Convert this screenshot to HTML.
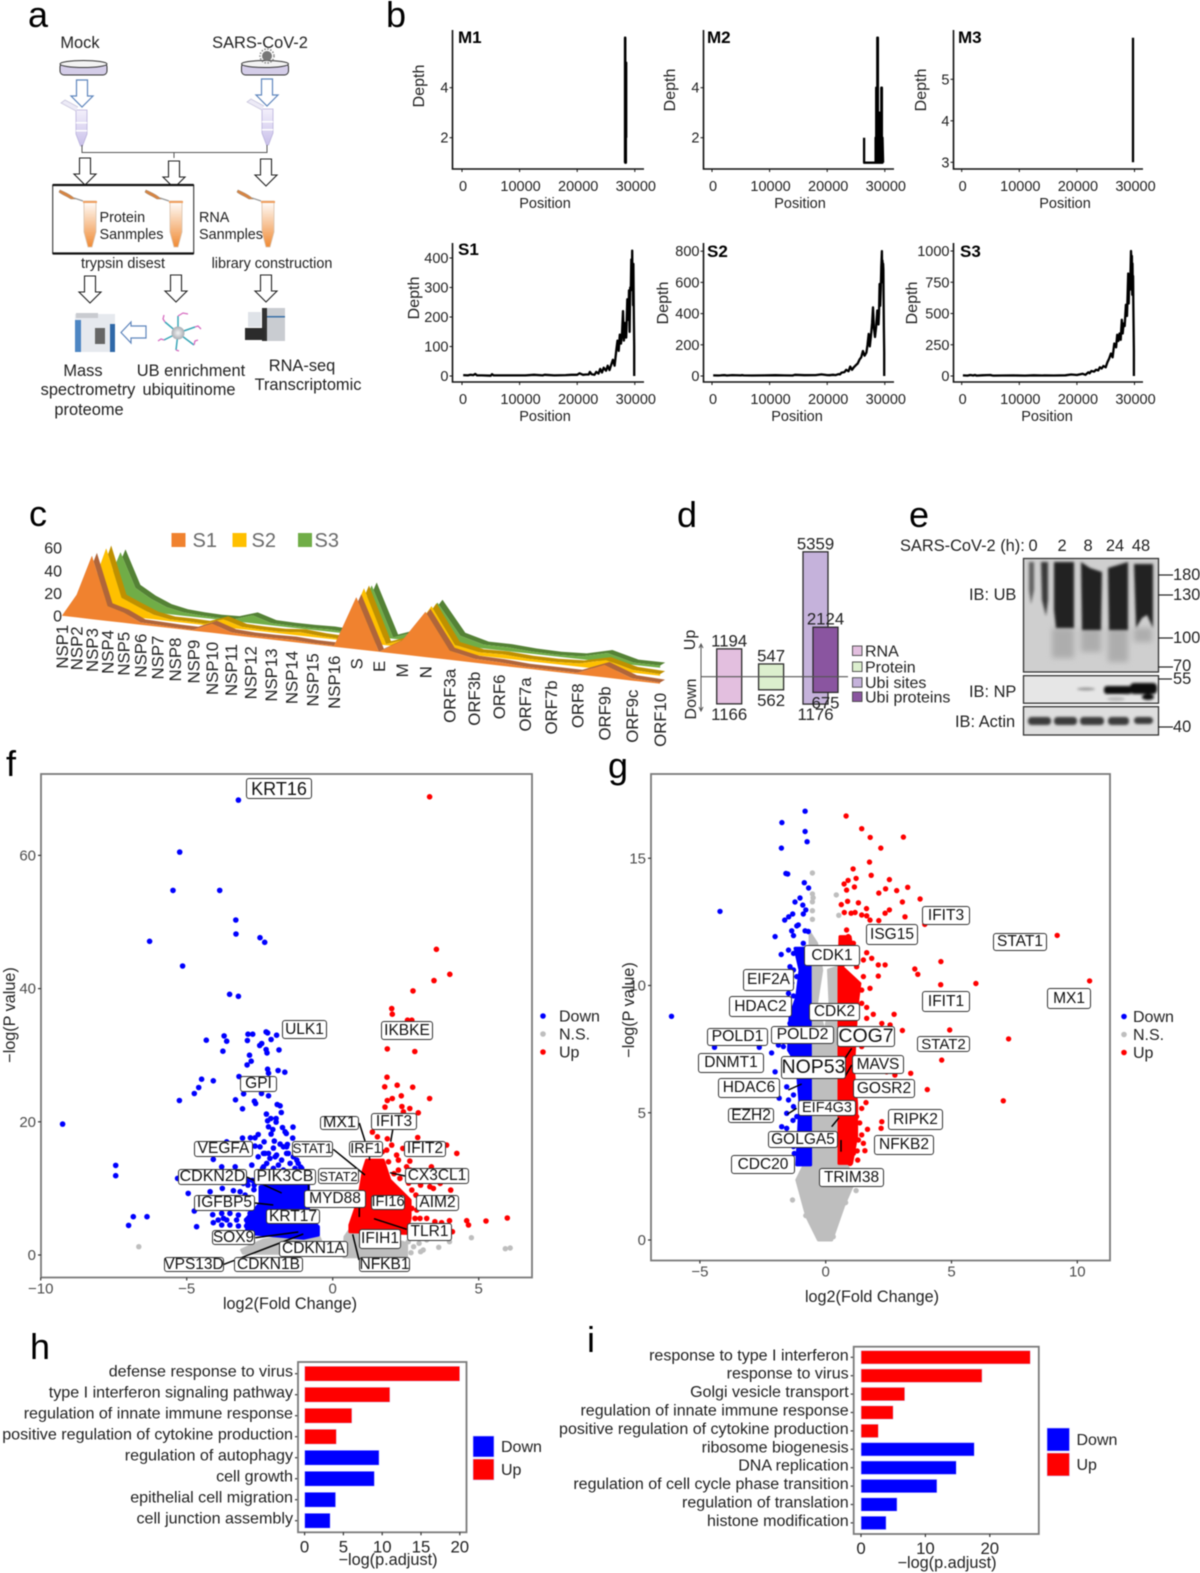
<!DOCTYPE html>
<html lang="en">
<head>
<meta charset="utf-8">
<title>SARS-CoV-2 multi-omics figure</title>
<style>
html,body{margin:0;padding:0;background:#fff;}
#root{position:relative;width:1200px;height:1573px;overflow:hidden;background:#fff;font-family:"Liberation Sans",Arial,sans-serif;color:#111;filter:blur(0.4px);}
#root svg{position:absolute;left:0;top:0;}
.lb{position:absolute;box-sizing:border-box;border:1.2px solid #333;border-radius:3px;background:#fff;display:flex;align-items:center;justify-content:center;font-size:15.5px;line-height:1;white-space:nowrap;color:#111;}
text{font-family:"Liberation Sans",Arial,sans-serif;}
.pl{font-size:36px;fill:#000;}
.ta{font-size:15.5px;fill:#222;}
.ts{font-size:14.4px;fill:#222;}
.wb{font-size:16.4px;fill:#222;}
</style>
</head>
<body>
<div id="root">
<svg id="chart" width="1200" height="1573" viewBox="0 0 1200 1573" xmlns="http://www.w3.org/2000/svg">
<defs>
<polygon id="arr" points="-5.5,0 5.5,0 5.5,16 11,16 0,27 -11,16 -5.5,16"/>
<linearGradient id="tubeP" x1="0" y1="0" x2="0" y2="1"><stop offset="0" stop-color="#f3f0fb"/><stop offset="1" stop-color="#c9c0ea"/></linearGradient>
<linearGradient id="tubeO" x1="0" y1="0" x2="0" y2="1"><stop offset="0" stop-color="#fff"/><stop offset="1" stop-color="#f08a33"/></linearGradient>
<radialGradient id="bead"><stop offset="0" stop-color="#f4f4f4"/><stop offset="1" stop-color="#a9adb3"/></radialGradient>
<g id="tp"><polygon points="0,0 11,0 11,24 6.5,36 4.5,36 0,24" fill="url(#tubeP)" stroke="#b9b1dc" stroke-width=".8"/><path d="M0,1 L-15,-7 L-11,-10 L2,-3" fill="#eceaf6" stroke="#c9c6dd" stroke-width=".8"/><rect x="0" y="12" width="11" height="1.5" fill="#fff"/><rect x="0" y="20" width="11" height="1.5" fill="#fff"/></g>
<g id="to"><polygon points="0,0 12,0 12,31 8,46 4,46 0,31" fill="url(#tubeO)" stroke="#d9c2ad" stroke-width=".8"/><rect x="-1" y="0" width="14" height="2" fill="#f0a060"/><path d="M-1,0 L-10,-3" stroke="#999" stroke-width="1.2"/><path d="M-24,-11 C-20,-9 -14,-7 -9,-2 L-13,-2 C-18,-5 -23,-7 -25,-9 Z" fill="#d9843f" stroke="#a98a6f" stroke-width=".6"/></g>
<filter id="bl1" x="-30%" y="-30%" width="160%" height="160%"><feGaussianBlur stdDeviation="1.2"/></filter>
<filter id="bl3" x="-40%" y="-40%" width="180%" height="180%"><feGaussianBlur stdDeviation="3"/></filter>
</defs>

<g>
<text class="pl" x="28" y="27">a</text>
<text class="pl" x="386" y="27">b</text>
<text class="pl" x="29" y="526">c</text>
<text class="pl" x="677" y="527">d</text>
<text class="pl" x="909" y="527">e</text>
<text class="pl" x="6" y="776">f</text>
<text class="pl" x="608" y="778">g</text>
<text class="pl" x="30" y="1359">h</text>
<text class="pl" x="587" y="1352">i</text>
</g>

<g id="panel-a">
<text class="wb" x="80" y="48" text-anchor="middle">Mock</text>
<text class="wb" x="260" y="48" text-anchor="middle">SARS-CoV-2</text>
<g><rect x="60" y="63" width="47" height="12" rx="4" fill="#d4cde8" stroke="#333"/><ellipse cx="83.500" cy="64" rx="23.500" ry="3.500" fill="#f3f3f3" stroke="#333"/></g>
<g><rect x="241.500" y="63" width="47" height="12" rx="4" fill="#d4cde8" stroke="#333"/><ellipse cx="265" cy="64" rx="23.500" ry="3.500" fill="#f3f3f3" stroke="#333"/><circle cx="267" cy="56" r="5" fill="#777"/><circle cx="267" cy="56" r="7" fill="none" stroke="#888" stroke-width="1.5" stroke-dasharray="1.500 1.500"/></g>
<g fill="#fff" stroke="#5f86bd" stroke-width="1.2">
<use href="#arr" transform="translate(82,80)"/><use href="#arr" transform="translate(267,79)"/>
<polygon points="146,326 131,326 131,322 121,332.500 131,343 131,338 146,338"/>
</g>
<use href="#tp" x="76" y="110"/>
<use href="#tp" x="262" y="109"/>
<path d="M82,145 V152.500 H267 V145 M174,152.500 V158" fill="none" stroke="#555" stroke-width="1"/>
<g fill="#fff" stroke="#222" stroke-width="1.100">
<use href="#arr" transform="translate(85,158)"/><use href="#arr" transform="translate(174,161)"/><use href="#arr" transform="translate(266,159)"/>
<use href="#arr" transform="translate(90,276)"/><use href="#arr" transform="translate(176,275)"/><use href="#arr" transform="translate(266,275)"/>
</g>
<g><rect x="52.700" y="185" width="141" height="68.500" fill="#fff" stroke="#222" stroke-width="1"/><line x1="52.700" y1="185" x2="193.700" y2="185" stroke="#111" stroke-width="2.200"/><line x1="52.700" y1="253.500" x2="193.700" y2="253.500" stroke="#111" stroke-width="2.200"/></g>
<use href="#to" x="84" y="201"/>
<use href="#to" x="170" y="201"/>
<use href="#to" x="262" y="201"/>
<text class="ts" x="99.500" y="222">Protein</text>
<text class="ts" x="99.500" y="239">Sanmples</text>
<text class="ts" x="199" y="222">RNA</text>
<text class="ts" x="199" y="239">Sanmples</text>
<text class="ts" x="123" y="268" text-anchor="middle">trypsin disest</text>
<text class="ts" x="272" y="268" text-anchor="middle">library construction</text>
<g><rect x="75" y="314" width="40" height="38" fill="#e6e9ee"/><rect x="75" y="320" width="6" height="32" fill="#4d86c3"/><rect x="110" y="324" width="5" height="28" fill="#2f68a8"/><rect x="95" y="328" width="10" height="16" fill="#666"/><rect x="76" y="313" width="22" height="5" fill="#c9cbd0"/></g>
<g><path d="M178,333 L178,316 M178,333 L195,327 M178,333 L194,345 M178,333 L176,350 M178,333 L164,340 M178,333 L165,322" stroke="#3aa7b8" stroke-width="1.500"/><path d="M178,316 l5,-3 5,1 M195,327 l3,-1 3,3 M194,345 l1,-4 3,-1 M176,350 l3,1 M164,340 l-3,-1 -3,2 M165,322 l-2,-3 1,-4" fill="none" stroke="#d66cc0" stroke-width="1.300"/><circle cx="178" cy="333" r="6.500" fill="url(#bead)"/></g>
<g><rect x="262" y="308" width="23" height="33" fill="#c9ccd1"/><rect x="262" y="308" width="5" height="33" fill="#333"/><rect x="245" y="328" width="20" height="12" fill="#2b2b2b"/><rect x="248" y="312" width="13" height="15" fill="#dfe3e8"/><rect x="267" y="316" width="18" height="1.500" fill="#3970a8"/></g>
<text class="wb" x="83" y="376" text-anchor="middle">Mass</text>
<text class="wb" x="88" y="395" text-anchor="middle">spectrometry</text>
<text class="wb" x="89" y="415" text-anchor="middle">proteome</text>
<text class="wb" x="191" y="376" text-anchor="middle">UB enrichment</text>
<text class="wb" x="189" y="395" text-anchor="middle">ubiquitinome</text>
<text class="wb" x="302" y="371" text-anchor="middle">RNA-seq</text>
<text class="wb" x="308" y="390" text-anchor="middle">Transcriptomic</text>
</g>

<g id="panel-e">
<text class="wb" x="900" y="551">SARS-CoV-2 (h):</text>
<g>
<text class="wb" x="1033" y="551" text-anchor="middle">0</text>
<text class="wb" x="1062" y="551" text-anchor="middle">2</text>
<text class="wb" x="1088" y="551" text-anchor="middle">8</text>
<text class="wb" x="1115" y="551" text-anchor="middle">24</text>
<text class="wb" x="1141" y="551" text-anchor="middle">48</text>
</g>
<g>
<rect x="1023.500" y="558.500" width="135" height="113.500" fill="#cfcfcf"/>
<g filter="url(#bl3)" fill="#adadad"><rect x="1052" y="628" width="22" height="30"/><rect x="1081" y="628" width="20" height="24"/><rect x="1108" y="628" width="20" height="34"/><rect x="1134" y="628" width="18" height="14"/></g>
<g filter="url(#bl1)" fill="#222">
<path d="M1029,562 L1034,562 L1034,590 L1031,604 L1029,590 Z" opacity=".65"/>
<path d="M1041,562 L1048,562 L1048,600 L1046,616 L1042,600 Z" opacity=".85"/>
<path d="M1054,562 L1074,562 L1074,628 L1056,628 L1054,610 Z"/>
<path d="M1081,562 L1090,568 L1102,572 L1101,630 L1082,630 Z"/>
<path d="M1108,568 L1128,562 L1128,630 L1109,630 Z"/>
<path d="M1134,564 L1153,564 L1153,628 L1147,615 L1142,618 L1136,628 Z"/>
</g>
<rect x="1023.500" y="558.500" width="135" height="113.500" fill="none" stroke="#333" stroke-width="1.300"/>
</g>
<g>
<rect x="1023.500" y="675.700" width="135" height="27.500" fill="#e6e6e6"/>
<g filter="url(#bl1)" fill="#111"><ellipse cx="1086" cy="689" rx="9" ry="1.500" fill="#999"/><rect x="1104" y="686" width="28" height="8" rx="3"/><rect x="1130" y="683" width="27" height="11" rx="4"/><ellipse cx="1148" cy="697" rx="6" ry="3"/><ellipse cx="1116" cy="699" rx="9" ry="2" fill="#bbb"/></g>
<rect x="1023.500" y="675.700" width="135" height="27.500" fill="none" stroke="#333" stroke-width="1.300"/>
</g>
<g>
<rect x="1023.500" y="706.700" width="135" height="28.300" fill="#dedede"/>
<g filter="url(#bl1)" fill="#3a3a3a"><rect x="1028" y="717" width="23" height="8" rx="3.500"/><rect x="1054" y="717" width="23" height="8" rx="3.500"/><rect x="1080" y="717" width="24" height="8" rx="3.500"/><rect x="1108" y="717" width="21" height="8" rx="3.500"/><rect x="1134" y="717" width="19" height="7" rx="3.500"/></g>
<rect x="1023.500" y="706.700" width="135" height="28.300" fill="none" stroke="#333" stroke-width="1.300"/>
</g>
<text class="wb" x="969" y="600">IB: UB</text>
<text class="wb" x="969" y="697">IB: NP</text>
<text class="wb" x="955" y="727">IB: Actin</text>
<g stroke="#222" stroke-width="1.200"><line x1="1158" y1="575" x2="1173" y2="575"/><line x1="1158" y1="595" x2="1173" y2="595"/><line x1="1158" y1="638" x2="1173" y2="638"/><line x1="1158" y1="667" x2="1173" y2="667"/><line x1="1158" y1="679" x2="1172" y2="679"/><line x1="1158" y1="727" x2="1173" y2="727"/></g>
<text class="wb" x="1173" y="580">180</text>
<text class="wb" x="1173" y="600">130</text>
<text class="wb" x="1173" y="643">100</text>
<text class="wb" x="1173" y="671">70</text>
<text class="wb" x="1173" y="684">55</text>
<text class="wb" x="1173" y="732">40</text>
</g>
<g id="charts"></g>
</svg>

<svg width="1200" height="1573" viewBox="0 0 1200 1573" xmlns="http://www.w3.org/2000/svg">
<g stroke="#000" stroke-width="1.500">
<line x1="246.700" y1="1177" x2="281.700" y2="1193"/>
<line x1="255" y1="1203" x2="273.300" y2="1205"/>
<line x1="255.300" y1="1237.700" x2="298.300" y2="1232"/>
<line x1="224" y1="1264.300" x2="303.300" y2="1234"/>
<line x1="308.500" y1="1184" x2="308.500" y2="1192"/>
<line x1="333.300" y1="1149.300" x2="365" y2="1175"/>
<line x1="359.300" y1="1123" x2="365" y2="1141"/>
<line x1="369.500" y1="1156" x2="369.500" y2="1160"/>
<line x1="392.700" y1="1130" x2="390.700" y2="1141.700"/>
<line x1="390" y1="1172.700" x2="405" y2="1176"/>
<line x1="359.300" y1="1208" x2="359.300" y2="1217"/>
<line x1="374" y1="1218.700" x2="406.700" y2="1229.300"/>
<line x1="352.700" y1="1234.300" x2="359" y2="1260"/>
</g>
<g stroke="#000" stroke-width="1.500">
<line x1="851.700" y1="1048.300" x2="845" y2="1058.300"/>
<line x1="851.700" y1="1065" x2="844" y2="1078.300"/>
<line x1="788.300" y1="1090" x2="801.700" y2="1084"/>
<line x1="787.300" y1="1114.300" x2="796.700" y2="1108.300"/>
<line x1="839" y1="1117.700" x2="831.700" y2="1126.700"/>
<line x1="841" y1="1140" x2="841" y2="1151.700"/>
</g>
</svg>

<!-- volcano f gene labels -->
<div class="lb" style="left:246px;top:778px;width:66px;height:21px;font-size:18px">KRT16</div>
<div class="lb" style="left:282px;top:1020px;width:45px;height:19px">ULK1</div>
<div class="lb" style="left:240px;top:1076px;width:37px;height:16px">GPI</div>
<div class="lb" style="left:194px;top:1141px;width:59px;height:16px">VEGFA</div>
<div class="lb" style="left:178px;top:1169px;width:69px;height:16px;font-size:16px">CDKN2D</div>
<div class="lb" style="left:254px;top:1169px;width:62px;height:16px;font-size:16px">PIK3CB</div>
<div class="lb" style="left:194px;top:1195px;width:61px;height:16px">IGFBP5</div>
<div class="lb" style="left:266px;top:1209px;width:54px;height:15px">KRT17</div>
<div class="lb" style="left:212px;top:1230px;width:43px;height:15px">SOX9</div>
<div class="lb" style="left:164px;top:1257px;width:60px;height:15px">VPS13D</div>
<div class="lb" style="left:234px;top:1257px;width:69px;height:15px">CDKN1B</div>
<div class="lb" style="left:279px;top:1241px;width:69px;height:16px">CDKN1A</div>
<div class="lb" style="left:320px;top:1116px;width:39px;height:14px;font-size:16px">MX1</div>
<div class="lb" style="left:292px;top:1141px;width:41px;height:16px;font-size:13.5px">STAT1</div>
<div class="lb" style="left:318px;top:1168px;width:41px;height:16px;font-size:13px">STAT2</div>
<div class="lb" style="left:304px;top:1190px;width:62px;height:18px">MYD88</div>
<div class="lb" style="left:349px;top:1141px;width:34px;height:16px;font-size:14.5px">IRF1</div>
<div class="lb" style="left:371px;top:1113px;width:46px;height:17px">IFIT3</div>
<div class="lb" style="left:404px;top:1141px;width:42px;height:16px">IFIT2</div>
<div class="lb" style="left:405px;top:1168px;width:64px;height:16px">CX3CL1</div>
<div class="lb" style="left:381px;top:1021px;width:52px;height:19px">IKBKE</div>
<div class="lb" style="left:371px;top:1195px;width:34px;height:15px;font-size:14.5px">IFI16</div>
<div class="lb" style="left:416px;top:1195px;width:43px;height:16px">AIM2</div>
<div class="lb" style="left:407px;top:1223px;width:45px;height:18px">TLR1</div>
<div class="lb" style="left:359px;top:1229px;width:42px;height:20px">IFIH1</div>
<div class="lb" style="left:359px;top:1257px;width:51px;height:15px">NFKB1</div>

<!-- volcano g gene labels -->
<div class="lb" style="left:866px;top:924px;width:52px;height:21px">ISG15</div>
<div class="lb" style="left:804px;top:945px;width:56px;height:21px">CDK1</div>
<div class="lb" style="left:743px;top:969px;width:51px;height:22px">EIF2A</div>
<div class="lb" style="left:729px;top:996px;width:63px;height:21px">HDAC2</div>
<div class="lb" style="left:809px;top:1003px;width:51px;height:18px">CDK2</div>
<div class="lb" style="left:707px;top:1028px;width:61px;height:18px;font-size:15.8px">POLD1</div>
<div class="lb" style="left:771px;top:1026px;width:63px;height:18px;font-size:15.8px">POLD2</div>
<div class="lb" style="left:837px;top:1026px;width:58px;height:21px;font-size:19.5px">COG7</div>
<div class="lb" style="left:698px;top:1053px;width:66px;height:20px">DNMT1</div>
<div class="lb" style="left:781px;top:1056px;width:65px;height:23px;font-size:19.5px">NOP53</div>
<div class="lb" style="left:852px;top:1055px;width:52px;height:19px">MAVS</div>
<div class="lb" style="left:718px;top:1078px;width:62px;height:20px">HDAC6</div>
<div class="lb" style="left:853px;top:1079px;width:62px;height:19px">GOSR2</div>
<div class="lb" style="left:728px;top:1108px;width:46px;height:15px">EZH2</div>
<div class="lb" style="left:798px;top:1100px;width:58px;height:16px;font-size:14.5px">EIF4G3</div>
<div class="lb" style="left:768px;top:1131px;width:70px;height:17px">GOLGA5</div>
<div class="lb" style="left:731px;top:1155px;width:64px;height:19px">CDC20</div>
<div class="lb" style="left:819px;top:1168px;width:65px;height:19px">TRIM38</div>
<div class="lb" style="left:888px;top:1109px;width:55px;height:21px">RIPK2</div>
<div class="lb" style="left:874px;top:1135px;width:60px;height:20px">NFKB2</div>
<div class="lb" style="left:922px;top:906px;width:48px;height:19px">IFIT3</div>
<div class="lb" style="left:993px;top:933px;width:54px;height:18px">STAT1</div>
<div class="lb" style="left:922px;top:991px;width:48px;height:21px">IFIT1</div>
<div class="lb" style="left:1047px;top:988px;width:44px;height:21px">MX1</div>
<div class="lb" style="left:917px;top:1036px;width:53px;height:16px;font-size:15px">STAT2</div>
</div>

<script>
/* ---------- panel b: genome coverage ---------- */
const m1Pos=[28300,28300,28350,28350,28450,28450,28500,28500];
const m1Depth=[1,6,6,1,1,2,5,2];
const m2Pos=[26400,26400,26450,26450,28400,28400,28500,28500,28600,28600,28700,28700,28800,28800,28900,28900,29000,29000,29100,29100,29200,29200,29300,29300,29400,29400,29500,29500,29600,29600,29700];
const m2Depth=[2,1,1,1,1,2,2,4,4,1,1,6,6,3,3,1,1,3,3,1,1,3,3,1,1,4,4,1,1,2,1];
const m3Pos=[29740,29740];
const m3Depth=[3,6];
const covPos=[200,1000,1500,2000,2300,2600,3500,5000,5200,5500,7000,9000,11000,12500,14000,14400,16000,18000,19000,20000,20400,21000,21500,22000,22200,22500,23000,23300,23700,24000,24300,24600,25000,25300,25600,25900,26200,26500,26800,27000,27200,27400,27600,27800,27950,28100,28300,28500,28700,28900,29000,29100,29200,29300,29400,29500,29550,29600,29650,29700,29750,29800,29850,29900,29903,29904];
const s1Depth=[3,2,4,3,7,2,2,1,6,2,2,2,2,4,2,4,2,3,4,4,9,4,5,5,14,6,4,14,8,24,12,28,18,35,20,38,55,35,90,120,85,140,110,150,220,120,180,130,260,190,290,150,300,290,395,330,425,300,370,240,380,300,190,100,0,0];
const s2Depth=[4,3,4,6,5,3,6,4,6,4,3,4,5,4,3,8,5,6,10,6,5,8,6,12,10,22,25,40,30,60,40,55,70,80,105,120,160,130,150,200,270,190,260,340,440,310,250,320,420,330,400,590,450,560,700,800,640,740,600,720,680,500,300,150,0,0];
const s3Depth=[5,3,8,4,8,3,6,8,5,3,4,5,3,6,4,5,4,6,12,8,12,18,10,30,22,40,35,50,45,70,60,80,70,110,140,180,150,260,230,330,280,340,290,450,340,420,400,570,480,820,580,800,690,820,1000,880,960,650,900,700,800,600,400,200,0,0];
const covXTicks=[0,10000,20000,30000];
const m1YTicks=[2,4];
const m2YTicks=[2,4];
const m3YTicks=[3,4,5];
const s1YTicks=[0,100,200,300,400];
const s2YTicks=[0,200,400,600,800];
const s3YTicks=[0,250,500,750,1000];

/* ---------- panel c: viral protein abundance ---------- */
const cCategories=["NSP1","NSP2","NSP3","NSP4","NSP5","NSP6","NSP7","NSP8","NSP9","NSP10","NSP11","NSP12","NSP13","NSP14","NSP15","NSP16","S","E","M","N","ORF3a","ORF3b","ORF6","ORF7a","ORF7b","ORF8","ORF9b","ORF9c","ORF10"];
const cS1=[0,20,56,13,9,2,1.5,1,0.8,8,2.5,1.5,1.5,2,1,1,46,0,12,40,8,3.5,3,1.5,1.5,1.5,11,2,1];
const cS2=[0,20,58,16,10,4,1.5,1.5,1,7,2,1.5,1.5,3,1.5,1,48,1,8,39,7,3,3.5,2,2,3,8.5,2.5,1.5];
const cS3=[0,18,50,20,12,6,3,2,1.5,2,7,2,1.5,1.5,2,1,45,1,8,36,9,3.5,3.5,2,1.5,2.5,8,2,2];
const cYTicks=[0,20,40,60];

/* ---------- panel d: differential counts ---------- */
const dCategories=["RNA","Protein","Ubi sites","Ubi proteins"];
const dUp=[1194,547,5359,2124];
const dDown=[1166,562,1176,675];

/* ---------- panel f: volcano [log2FC, -logP] ---------- */
const fDown=[[-3.23,68.3],[-5.24,60.5],[-5.47,54.75],[-3.87,54.75],[-3.32,50.3],[-3.31,48.2],[-6.27,47.1],[-2.49,47.65],[-2.33,46.95],[-5.14,43.4],[-3.53,39.15],[-3.23,38.85],[-1.92,33],[-2.23,33.35],[-2.28,33.5],[-2.74,33.15],[-2.9,33.15],[-3.72,32.9],[-3.63,32.1],[-4.33,32.25],[-2.92,32.2],[-2.11,32.35],[-2.43,31.75],[-2.5,31.45],[-2.28,30.85],[-2.25,30.35],[-1.84,30.8],[-3.76,30.6],[-2.85,30],[-2.79,29.1],[-2.93,28.55],[-2.23,27.9],[-2.2,27.3],[-1.87,27.7],[-1.64,27.45],[-3.21,26.8],[-4.49,26.4],[-4.09,26.15],[-4.59,25.15],[-4.74,24.25],[-3.05,24.2],[-2.44,24.25],[-2.2,23.9],[-5.25,23.2],[-3.33,23.3],[-2.68,23.1],[-2.64,22.75],[-1.9,22.6],[-1.8,22.4],[-3.09,21.95],[-1.76,21.4],[-2.27,21.15],[-9.25,19.65],[-2.12,20.5],[-1.94,20.5],[-2.23,20.15],[-1.94,19.95],[-1.72,19.15],[-1.36,19.2],[-2.2,19.25],[-2.05,18.85],[-2.11,18.15],[-1.63,18.5],[-1.59,18.25],[-1.37,17.55],[-3.09,17.55],[-2.82,17.6],[-2.55,18.1],[-2.66,17.6],[-2.35,17],[-3.63,17],[-2.66,16.35],[-1.8,16.65],[-2.03,16.05],[-1.58,16.25],[-2.32,15.25],[-1.92,15],[-1.52,15.25],[-2.55,14.75],[-2.15,14.5],[-1.75,14.25],[-1.23,14.25],[-4.09,14.35],[-2.26,13.75],[-1.86,13.5],[-1.46,13.75],[-3.8,13.25],[-2.77,13.5],[-3.34,13.25],[-7.43,13.45],[-7.43,11.9],[-5.31,11.5],[-4.95,9.25],[-4.2,9.5],[-3.78,10],[-3.4,9.65],[-3.17,9.5],[-6.83,5.75],[-6.36,5.75],[-6.99,4.45],[-4.74,6.6],[-4.66,4.25],[-4.11,6.05],[-3.8,6.25],[-3.52,6.25],[-3.23,6],[-2.83,6.25],[-3.92,5.25],[-3.63,5.25],[-3.29,5.25],[-2.95,5.25],[-4.09,4.85],[-3.8,4.5],[-3.52,4.5],[-3.23,4.35],[-2.95,4.35],[-2.66,4.25],[-3.52,8.5],[-3.29,8.25],[-2.95,8.25],[-2.83,7.25],[-3.05,7.1],[-2.6,12.4],[-2.4,13],[-2.05,12.7],[-1.7,12.5],[-1.3,12.3],[-1.05,12],[-2.45,11.4],[-2.1,11.3],[-1.8,11.5],[-1.4,11.2],[-1.1,11],[-2.75,11.2],[-1.55,16.6],[-2,17.1],[-1.2,16],[-1.1,13.2],[-2.85,16.2],[-3.1,12],[-2.9,10.5],[-2.7,9.8],[-2.49,16.25],[-2.37,15.25],[-2.2,15.25],[-1.97,14.75],[-1.69,16.25],[-1.58,15.25],[-1.35,14.75],[-1.18,13.75],[-2.37,13.25],[-2.03,13],[-1.69,12.75],[-1.29,13],[-1.06,13],[-0.89,12.25],[-2.6,12],[-2.89,11.25],[-2.69,10.5],[-3.06,10.75],[-3,9],[-2.77,8.5],[-3.23,7.75],[-3.52,7.25],[-2.95,7],[-3.92,7.75],[-3.69,7.75],[-4.14,7.25],[-3.74,5.5]];
const fDownHull=[[-2.49,10.25],[-1.69,10.75],[-0.83,10.5],[-0.83,5.75],[-0.49,4.25],[-0.49,3],[-1,2.5],[-2.95,3.25],[-2.95,5.5],[-2.49,7.75]];
const fUp=[[3.32,68.8],[3.55,45.9],[4.01,42.15],[3.47,41.2],[2.75,39.65],[2.02,37],[2.04,36.15],[2.56,35.25],[2.71,35.25],[1.87,30.95],[2.81,30.55],[1.86,26.7],[1.78,25.25],[2.21,25.5],[2.74,25.2],[2.35,23.9],[3.32,23.5],[2.04,23.5],[1.87,23.2],[1.79,22.2],[2.37,22.3],[2.64,22],[2.93,21.35],[2.42,21.5],[2.91,17.65],[1.36,18.45],[1.53,17.75],[1.87,17.45],[2.02,16.5],[3.9,16.5],[4.25,15.25],[1.85,15.75],[2.19,15],[2.25,14.25],[2.64,14.1],[1.91,14],[2.53,13.25],[3.38,13.25],[2.25,12.75],[2.65,12.75],[3.22,12.5],[3.01,10.5],[3.33,10.25],[3.45,10],[3.68,10.75],[4.04,9.75],[2.71,9.75],[2.56,6.25],[2.71,7],[2.82,5.5],[2.99,5.5],[3.22,5.5],[3.5,5],[4,5.15],[4.59,5.15],[4.65,4.5],[5.25,5.1],[5.98,5.55],[4.1,3.5],[3.73,4.85],[2.88,6.75],[1.55,16.3],[1.7,15.5],[2.4,16],[2.3,11.5],[2.6,10.8],[2.85,9],[3.1,8.3],[2.1,12.2],[2.9,11.8]];
const fUpHull=[[1.16,14.25],[1.73,14.25],[1.96,11.25],[2.65,8.25],[2.65,5.5],[2.53,3.25],[0.59,3.5],[0.59,4.5],[0.88,8.25],[1.05,12.75]];
const fNs=[[-6.64,1.25],[4.75,2.6],[3.63,1.15],[5.91,0.95],[6.08,1.05],[4,2],[3.1,0.75],[3.01,0.5],[2.77,1.25],[2.96,1.75],[2.68,0.35],[2.59,2],[3.22,2.25]];
const fNsHullLeft=[[-3.12,0.75],[-2.37,2.25],[-0.55,3.5],[-0.32,1.25],[-0.32,0.25],[-3.06,0.25]];
const fNsHullRight=[[0.42,2.75],[0.59,3.75],[2.53,1.75],[2.53,-0.25],[0.38,-0.25]];
const fXTicks=[-10,-5,0,5];
const fYTicks=[0,20,40,60];

/* ---------- panel g: volcano [log2FC, -logP] ---------- */
const gDown=[[-0.82,16.85],[-1.74,16.4],[-0.82,16.05],[-0.74,15.65],[-1.76,15.4],[-1.58,14.4],[-1.51,14.38],[-0.85,14.04],[-0.68,13.83],[-4.2,12.91],[-1.02,13.44],[-1.22,13.28],[-0.91,13.16],[-0.79,12.97],[-1.31,12.81],[-1.47,12.7],[-1.63,12.57],[-0.89,12.81],[-1.09,12.38],[-1.15,12.34],[-1.35,12.15],[-0.82,12.15],[-0.69,12.12],[-2.01,11.92],[-1.28,11.96],[-0.89,11.66],[-1.77,11.22],[-1.48,11.39],[-1.28,11.26],[-6.13,8.79],[-4.42,7.57],[-2.64,7.57],[-2.15,7.35],[-2.01,6.61],[-1.95,6.22],[-1.85,5.57],[-1.55,4.98],[-1.75,4.45],[-1.48,3.8],[-1.68,7.6],[-1.75,8],[-1.42,8.51],[-1.28,9.59],[-1.28,10.61],[-1.35,10.1],[-1.55,7.07],[-1.42,6.68],[-1.55,6.02],[-1.28,5.24],[-1.68,4.06],[-1.35,4.06],[-1.3,4.7],[-1.25,3.4],[-1.42,10.74],[-1.15,10.35],[-1.48,9.69],[-1.55,9.04],[-1.15,8.71],[-1.88,7.66],[-1.35,7.6],[-1.26,6.55],[-1.62,6.48],[-1.28,5.7],[-1.48,5.5],[-1.15,4.85],[-1.55,4.39],[-1.28,3.67],[-1.09,3.27]];
const gDownHull=[[-1.22,11.46],[-0.62,11.46],[-0.6,2.95],[-1.15,2.95],[-1.02,5.37],[-1.15,6.94],[-1.48,7.46],[-1.42,8.77],[-1.15,9.56],[-1.02,10.61]];
const gUp=[[0.81,16.66],[1.43,16.16],[1.77,15.82],[3.09,15.83],[2.19,15.4],[1.74,14.85],[1.09,14.58],[1.81,14.33],[1.21,14.21],[0.89,14.13],[0.73,13.99],[2.53,14.16],[1.14,13.87],[0.83,13.75],[2.38,13.8],[3.26,13.86],[2.82,13.73],[2.11,13.63],[1.3,13.25],[0.87,13.31],[0.62,13.18],[3.05,13.28],[3.75,13.4],[1.62,13.02],[0.74,12.87],[1.01,12.84],[1.17,12.87],[1.43,12.77],[1.63,12.74],[2.53,12.97],[2.36,12.84],[3.15,12.7],[1.76,12.57],[2.11,12.55],[0.83,12.18],[3.94,12.4],[9.2,11.97],[4.58,10.94],[3.54,10.65],[3.66,10.44],[4.57,10.03],[5.97,10.08],[10.49,10.18],[3.05,8.23],[4.93,8.25],[7.27,7.9],[4.61,7.07],[3.38,6.55],[4.04,5.91],[7.06,5.47],[1.63,11.29],[1.5,11],[1.83,11.07],[2.09,10.81],[2.36,10.81],[2.09,10.37],[1.1,11.13],[1.76,9.89],[1.43,9.82],[1.23,10.08],[1.43,9.3],[1.63,9.14],[1.89,8.87],[2.72,8.87],[1.63,8.71],[2.23,8.51],[2.56,8.45],[1.6,5.4],[1.43,5.17],[2.23,4.65],[2.2,4.39],[1.66,4.35],[1.43,4.13],[1.3,3.93],[1.56,3.51],[1.27,3.14],[1.1,3.67],[2.42,6.61],[2.75,6.48],[0.97,3.01],[0.9,11.92],[1.1,11.66],[1.35,4.6],[1.25,3.5],[1.4,8.1],[1.5,7.8],[1.23,10.74],[1.5,10.35],[1.1,8.38],[1.3,7.99],[1.43,7.6],[1.3,6.03],[1.43,5.7],[1.23,4.85],[1.1,4.58],[1.5,3.8],[1.1,3.41]];
const gUpHull=[[0.57,11.92],[0.97,11.92],[1.1,11.13],[0.64,10.74],[1.36,10.08],[1.23,9.03],[1.1,6.68],[1.23,5.37],[1.23,4.06],[1.03,3.01],[0.53,3.01],[0.53,7.33],[0.53,10.61]];
const gNs=[[-0.53,14.42],[-0.53,13.6],[-0.53,13.29],[-0.53,12.94],[-0.53,12.6],[0.42,13.56],[0.52,12.76],[-1.32,1.57],[-0.79,0.96],[1.21,1.94],[0.79,1.47],[0.3,0.13],[-0.22,0.07],[-0.5,13.45]];
const gNsHull=[[-0.62,12.05],[-0.36,11.66],[-0.16,10.61],[-0.36,9.3],[-0.03,8.12],[0.17,9.3],[0.11,10.61],[0.53,10.74],[0.57,9.3],[0.54,5.37],[0.83,3.01],[1.1,2.23],[0.7,1.31],[0.24,0],[-0.29,0],[-0.75,0.92],[-1.15,2.36],[-0.62,3.41],[-0.62,7.99]];
const gXTicks=[-5,0,5,10];
const gYTicks=[0,5,10,15];

/* ---------- panels h and i: enrichment ---------- */
const hTerms=["defense response to virus","type I interferon signaling pathway","regulation of innate immune response","positive regulation of cytokine production","regulation of autophagy","cell growth","epithelial cell migration","cell junction assembly"];
const hValues=[20,11,6.1,4.1,9.6,9,4,3.3];
const hGroups=["Up","Up","Up","Up","Down","Down","Down","Down"];
const hTicks=[0,5,10,15,20];
const iTerms=["response to type I interferon","response to virus","Golgi vesicle transport","regulation of innate immune response","positive regulation of cytokine production","ribosome biogenesis","DNA replication","regulation of cell cycle phase transition","regulation of translation","histone modification"];
const iValues=[26.3,18.8,6.8,5,2.7,17.6,14.8,11.8,5.6,3.9];
const iGroups=["Up","Up","Up","Up","Up","Down","Down","Down","Down","Down"];
const iTicks=[0,10,20];

const NS="http://www.w3.org/2000/svg";
const charts=document.getElementById("charts");
function mk(tag,attrs,parent){
  const el=document.createElementNS(NS,tag);
  for(const k in attrs){el.setAttribute(k,attrs[k]);}
  parent.appendChild(el);
  return el;
}
function txt(parent,x,y,str,size,anchor,fill){
  const t=mk("text",{x:x,y:y,"font-size":size,"text-anchor":anchor||"start",fill:fill||"#222"},parent);
  t.textContent=str;
  return t;
}
function group(parent,name){
  const g=mk("g",{},parent);
  
  
  return g;
}
function fmt(v){return v<0?"\u2212"+Math.abs(v):String(v);}
function poly(arr,fx,fy){return arr.map(function(p){return fx(p[0]).toFixed(1)+","+fy(p[1]).toFixed(1);}).join(" ");}

/* coverage panels */
function drawCoverage(name,title,pos,depth,xTicks,yTicks,g){
  const root=group(charts,"coverage-"+name);
  const px=function(v){return g.x0+v*0.00576;};
  const py=function(v){return g.y0-(v-g.v0)*g.k;};
  const ax=mk("path",{d:"M"+g.axis+","+g.top+" V"+g.bottom+" H"+g.right,fill:"none",stroke:"#111","stroke-width":1.6},root);
  
  
  xTicks.forEach(function(v){
    const tk=mk("line",{x1:px(v),x2:px(v),y1:g.bottom,y2:g.bottom+3,stroke:"#111","stroke-width":1},root);
    
    
    const lab=txt(root,px(v)+1,g.bottom+22,String(v),14.5,"middle");
    
    
  });
  yTicks.forEach(function(v){
    const tk=mk("line",{x1:g.axis-3,x2:g.axis,y1:py(v),y2:py(v),stroke:"#111","stroke-width":1},root);
    
    
    const lab=txt(root,g.axis-4,py(v)+5,String(v),14.5,"end");
    
    
  });
  const line=mk("polyline",{points:pos.map(function(p,i){return px(p).toFixed(1)+","+py(depth[i]).toFixed(1);}).join(" "),fill:"none",stroke:"#000","stroke-width":2.3,"stroke-linejoin":"round"},root);
  
  
  const tt=txt(root,g.titleX,g.titleY,title,17,"start","#000");
  tt.setAttribute("font-weight","bold");
  
  
  const xt=txt(root,g.posX,g.bottom+39,"Position",14.5,"middle");
  
  
  const yt=txt(root,0,0,"Depth",16,"middle");
  yt.setAttribute("transform","translate("+g.depX+","+g.depY+") rotate(-90)");
  
  
}
drawCoverage("m1","M1",m1Pos,m1Depth,covXTicks,m1YTicks,{x0:462,y0:162.7,v0:1,k:25,axis:452.5,top:30,bottom:169,right:644,titleX:458,titleY:43,posX:545,depX:424,depY:86});
drawCoverage("m2","M2",m2Pos,m2Depth,covXTicks,m2YTicks,{x0:712,y0:162.7,v0:1,k:25,axis:703.5,top:30,bottom:169,right:894,titleX:707,titleY:43,posX:800,depX:675,depY:90});
drawCoverage("m3","M3",m3Pos,m3Depth,covXTicks,m3YTicks,{x0:961.7,y0:162.3,v0:3,k:41.5,axis:953.5,top:30,bottom:169,right:1143,titleX:958,titleY:43,posX:1065,depX:926,depY:90});
drawCoverage("s1","S1",covPos,s1Depth,covXTicks,s1YTicks,{x0:462,y0:376,v0:0,k:0.295,axis:452.5,top:243,bottom:382,right:644,titleX:458,titleY:255,posX:545,depX:419,depY:298});
drawCoverage("s2","S2",covPos,s2Depth,covXTicks,s2YTicks,{x0:712,y0:376,v0:0,k:0.156,axis:703.5,top:243,bottom:382,right:894,titleX:707,titleY:257,posX:797,depX:668,depY:303});
drawCoverage("s3","S3",covPos,s3Depth,covXTicks,s3YTicks,{x0:961.7,y0:376,v0:0,k:0.125,axis:953.5,top:243,bottom:382,right:1143,titleX:960,titleY:257,posX:1047,depX:917,depY:303});

/* panel c */
(function(){
  const root=group(charts,"viral-protein-area-chart");
  const k=1.13;
  function catX(i){return 62+14.44*i+0.247*i*i;}
  function baseY(x){return 616+0.1137*(x-64);}
  function ptX(i,s){const x=catX(i);const t=(x-64)/600;return x+15*(1-t)*s;}
  function ptY(i,v,s){const x=catX(i);const t=(x-64)/600;return baseY(x)-v*k-(5+3*t)*s;}
  const series=[[cS3,2,"#70ad47","#548235","s3"],[cS2,1,"#ffc000","#bf9000","s2"],[cS1,0,"#f0822f","#b0653a","s1"]];
  series.forEach(function(sr){
    const vals=sr[0],s=sr[1];
    const tops=vals.map(function(v,i){return [ptX(i,s),ptY(i,v,s)];});
    const shifted=tops.map(function(p){return [p[0]+5,p[1]-3];}).reverse();
    const band=mk("polygon",{points:tops.concat(shifted).map(function(p){return p[0].toFixed(1)+","+p[1].toFixed(1);}).join(" "),fill:sr[3]},root);
    
    
    const bottoms=vals.map(function(v,i){return [ptX(i,s),ptY(i,0,s)];}).reverse();
    const face=mk("polygon",{points:tops.concat(bottoms).map(function(p){return p[0].toFixed(1)+","+p[1].toFixed(1);}).join(" "),fill:sr[2]},root);
    
    
  });
  cCategories.forEach(function(c,i){
    const x=catX(i);
    const t=txt(root,0,0,c,16.8,"end");
    t.setAttribute("transform","translate("+(x+6).toFixed(1)+","+(baseY(x)+9).toFixed(1)+") rotate(-90)");
    
    
  });
  cYTicks.forEach(function(v){
    const t=txt(root,62,616-v*k+5.5,String(v),16,"end");
    
    
  });
  [["S1",171.5,"#f0822f",192.5],["S2",232.5,"#ffc000",251.5],["S3",298,"#70ad47",314.5]].forEach(function(e){
    const sw=mk("rect",{x:e[1],y:533,width:14,height:14,fill:e[2]},root);
    
    
    const t=txt(root,e[3],547,e[0],20,"start","#6a6a6a");
    
    
  });
})();

/* panel d */
(function(){
  const root=group(charts,"differential-count-bars");
  const k=0.0233,y0=676.7;
  const lefts=[716.7,758.6,803,813];
  const colors=["#e3bfdf","#dcefce","#c5b2db","#8a55a0"];
  function yUp(v){return y0-v*k;}
  function yDown(v){return y0+v*k;}
  dCategories.forEach(function(c,i){
    const r=mk("rect",{x:lefts[i],y:yUp(dUp[i]),width:25,height:yDown(dDown[i])-yUp(dUp[i]),fill:colors[i],stroke:"#2b2b2b","stroke-width":1.3},root);
    
    
  });
  dCategories.forEach(function(c,i){
    const cx=lefts[i]+12.5;
    const a=txt(root,cx,yUp(dUp[i])-2.5,String(dUp[i]),16.8,"middle");
    
    
    const b=txt(root,cx,yDown(dDown[i])+16,String(dDown[i]),16.8,"middle");
    
    
  });
  const ln=mk("line",{x1:701,x2:848,y1:y0,y2:y0,stroke:"#555","stroke-width":1.2},root);
  
  
  const ar=mk("path",{d:"M701,645 V710 M699,648 L701,644 L703,648 M699,707 L701,711 L703,707",fill:"none",stroke:"#555","stroke-width":1},root);
  
  
  const up=txt(root,0,0,"Up",16,"middle");
  up.setAttribute("transform","translate(695,640) rotate(-90)");
  
  
  const dn=txt(root,0,0,"Down",16,"middle");
  dn.setAttribute("transform","translate(696,699) rotate(-90)");
  
  
  const ly=[651,667,682.7,697];
  dCategories.forEach(function(c,i){
    const s=mk("rect",{x:852.5,y:ly[i]-5,width:9.5,height:9.5,fill:colors[i],stroke:"#444","stroke-width":.9},root);
    
    
    const t=txt(root,865,ly[i]+5.5,c,16,"start");
    
    
  });
})();

/* volcano panels */
function fX(v){return 332.7+29.2*v;}
function fY(v){return 1255-6.66*v;}
function gX(v){return 825.7+25.16*v;}
function gY(v){return 1240-25.45*v;}
function dots(root,data,fx,fy,color,name,r){
  data.forEach(function(p){
    const c=mk("circle",{cx:fx(p[0]).toFixed(1),cy:fy(p[1]).toFixed(1),r:r,fill:color},root);
    
    
  });
}
function hull(root,data,fx,fy,color,name){
  const h=mk("polygon",{points:poly(data,fx,fy),fill:color,stroke:color,"stroke-width":3,"stroke-linejoin":"round"},root);
  
  
}
function frame(root,g,fx,fy,xTicks,yTicks){
  const r=mk("rect",{x:g.l,y:g.t,width:g.r-g.l,height:g.b-g.t,fill:"none",stroke:"#7a7a7a","stroke-width":1.8},root);
  
  
  xTicks.forEach(function(v){
    const tk=mk("line",{x1:fx(v),x2:fx(v),y1:g.b,y2:g.b+3,stroke:"#333","stroke-width":1.2},root);
    
    
    const t=txt(root,fx(v),g.b+16,fmt(v),15,"middle","#4d4d4d");
    
    
  });
  yTicks.forEach(function(v){
    const tk=mk("line",{x1:g.l-3,x2:g.l,y1:fy(v),y2:fy(v),stroke:"#333","stroke-width":1.2},root);
    
    
    const t=txt(root,g.l-5,fy(v)+5,String(v),15,"end","#4d4d4d");
    
    
  });
  const xt=txt(root,g.xtX,g.xtY,"log2(Fold Change)",16.2,"middle");
  
  
  const yt=txt(root,0,0,"\u2212log(P value)",16.2,"middle");
  yt.setAttribute("transform","translate("+g.ytX+","+g.ytY+") rotate(-90)");
  
  
  [["Down","#0000ff",g.legY],["N.S.","#bebebe",g.legY+18],["Up","#ff0000",g.legY+36]].forEach(function(e){
    const c=mk("circle",{cx:g.legX,cy:e[2],r:2.8,fill:e[1]},root);
    
    
    const t=txt(root,g.legT,e[2]+5.5,e[0],16,"start");
    
    
  });
}
(function(){
  const root=group(charts,"volcano-rna-or-protein-f");
  hull(root,fNsHullLeft,fX,fY,"#bebebe","ns-density-left");
  hull(root,fNsHullRight,fX,fY,"#bebebe","ns-density-right");
  dots(root,fNs,fX,fY,"#bebebe","point-ns",2.7);
  hull(root,fDownHull,fX,fY,"#0000ff","down-density");
  dots(root,fDown,fX,fY,"#0000ff","point-down",2.8);
  hull(root,fUpHull,fX,fY,"#ff0000","up-density");
  dots(root,fUp,fX,fY,"#ff0000","point-up",2.8);
  frame(root,{l:41,t:774,r:532,b:1277.5,xtX:290,xtY:1309,ytX:15,ytY:1015,legX:543,legT:559,legY:1016},fX,fY,fXTicks,fYTicks);
})();
(function(){
  const root=group(charts,"volcano-g");
  hull(root,gNsHull,gX,gY,"#bebebe","ns-density");
  dots(root,gNs,gX,gY,"#bebebe","point-ns",2.7);
  hull(root,gDownHull,gX,gY,"#0000ff","down-density");
  dots(root,gDown,gX,gY,"#0000ff","point-down",2.7);
  hull(root,gUpHull,gX,gY,"#ff0000","up-density");
  dots(root,gUp,gX,gY,"#ff0000","point-up",2.7);
  frame(root,{l:651,t:774,r:1110,b:1260.5,xtX:872,xtY:1302,ytX:634,ytY:1010,legX:1124,legT:1133,legY:1016.5},gX,gY,gXTicks,gYTicks);
})();

/* enrichment panels */
function drawEnrich(name,terms,values,groups,ticks,g){
  const root=group(charts,name);
  const px=function(v){return g.x0+v*g.k;};
  const py=function(i){return g.yTop+i*g.band;};
  terms.forEach(function(term,i){
    const col=groups[i]==="Up"?"#ff0000":"#0000ff";
    const b=mk("rect",{x:px(0),y:py(i)-g.h/2,width:px(values[i])-px(0),height:g.h,fill:col,stroke:"#dfe0ff","stroke-width":.6},root);
    
    
    const t=txt(root,g.l-5,py(i)+3,term,g.fs,"end");
    
    
    const tk=mk("line",{x1:g.l-3,x2:g.l,y1:py(i),y2:py(i),stroke:"#333","stroke-width":1.2},root);
    
    
  });
  const fr=mk("rect",{x:g.l,y:g.t,width:g.r-g.l,height:g.b-g.t,fill:"none",stroke:"#7a7a7a","stroke-width":1.8},root);
  
  
  ticks.forEach(function(v){
    const tk=mk("line",{x1:px(v),x2:px(v),y1:g.b,y2:g.b+3,stroke:"#333","stroke-width":1.2},root);
    
    
    const t=txt(root,px(v),g.b+20,String(v),16.8,"middle");
    
    
  });
  const xt=txt(root,g.tX,g.tY,"\u2212log(p.adjust)",16.3,"middle");
  
  
  [["Down","#0000ff",g.lgY1],["Up","#ff0000",g.lgY2]].forEach(function(e){
    const s=mk("rect",{x:g.lgX,y:e[2],width:g.lgW,height:g.lgH,fill:e[1],stroke:"#d0d0ff","stroke-width":.6},root);
    
    
    const t=txt(root,g.lgX+g.lgW+7,e[2]+g.lgH/2+5.5,e[0],16,"start");
    
    
  });
}
drawEnrich("enrichment-h",hTerms,hValues,hGroups,hTicks,{x0:304.6,k:7.76,yTop:1373.7,band:21,h:15,l:298,r:466.5,t:1362,b:1532.3,fs:16.1,tX:388,tY:1565,lgX:473,lgW:21,lgH:21,lgY1:1436,lgY2:1459});
drawEnrich("enrichment-i",iTerms,iValues,iGroups,iTicks,{x0:861,k:6.44,yTop:1357.3,band:18.4,h:13.5,l:853.7,r:1038.8,t:1346.7,b:1534,fs:16.05,tX:947,tY:1568,lgX:1047,lgW:22.5,lgH:23,lgY1:1428,lgY2:1453});
</script>
</body>
</html>
